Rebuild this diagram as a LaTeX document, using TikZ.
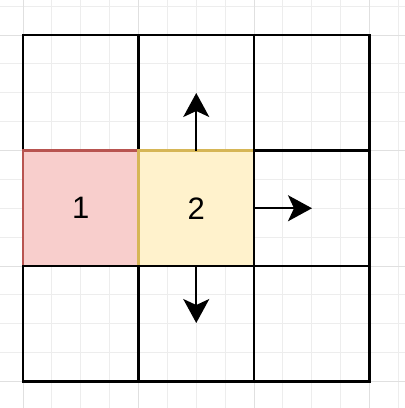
\documentclass[tikz,border=0pt]{standalone}
\usepackage{fontspec}
\setmainfont{Liberation Sans}
\usetikzlibrary{arrows.meta}

\definecolor{redfill}{HTML}{F8CECC}
\definecolor{redline}{HTML}{B85450}
\definecolor{yellowfill}{HTML}{FFF2CC}
\definecolor{yellowline}{HTML}{D6B656}

\tikzset{
    cellbox/.style={draw=black, line width=2.2pt, minimum size=115.5pt, inner sep=0pt, outer sep=0pt, font=\fontsize{31}{31}\selectfont},
    arrowline/.style={black, line width=2pt, -{Stealth[length=24pt, width=26pt, inset=6pt]}}
}

\begin{document}
\begin{tikzpicture}[x=1pt, y=-1pt]
            \useasboundingbox (0,0) rectangle (405,408);
            % background grid
            \foreach \k in {0,...,13} {
                \draw [gray!14, line width=0.9pt] (23+\k*28.875,0) -- (23+\k*28.875,408);
            }
            \foreach \k in {-1,...,12} {
                \draw [gray!14, line width=0.9pt] (0,35+\k*28.875) -- (405,35+\k*28.875);
            }
            \foreach \k in {0,...,3} {
                \draw [gray!24, line width=0.9pt] (23+\k*115.5,0) -- (23+\k*115.5,408);
                \draw [gray!24, line width=0.9pt] (0,35+\k*115.5) -- (405,35+\k*115.5);
            }

            % top row
            \node[cellbox] (c11) at (80.75,92.75) {};
            \node[cellbox] (c12) at (196.25,92.75) {};
            \node[cellbox] (c13) at (311.75,92.75) {};
            % middle row
            \node[cellbox, fill=redfill, draw=redline] (c21) at (80.75,208.25) {1};
            \node[cellbox, fill=yellowfill, draw=yellowline] (c22) at (196.25,208.25) {2};
            \node[cellbox] (c23) at (311.75,208.25) {};
            % bottom row
            \node[cellbox] (c31) at (80.75,323.75) {};
            \node[cellbox] (c32) at (196.25,323.75) {};
            \node[cellbox] (c33) at (311.75,323.75) {};

            \coordinate (Up)    at (196.25,93);
            \coordinate (Right) at (312,208.25);
            \coordinate (Down)  at (196.25,323);
            \draw [arrowline] (c22.north) -- (Up);
            \draw [arrowline] (c22.east) -- (Right);
            \draw [arrowline] (c22.south) -- (Down);
        \end{tikzpicture}
\end{document}
